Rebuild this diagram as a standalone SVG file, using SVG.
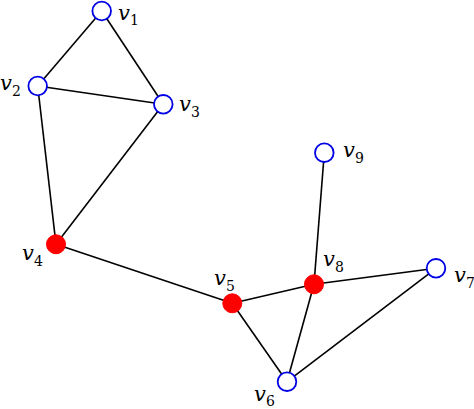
<svg xmlns="http://www.w3.org/2000/svg" width="474" height="409" viewBox="0 0 474 409">
<style>
.e{stroke:#000;stroke-width:1.6;fill:none}
.o{fill:#fff;stroke:#0000e6;stroke-width:1.8}
.r{fill:#f00;stroke:#f00;stroke-width:1}
.l{font-family:"DejaVu Serif","Liberation Serif",serif;font-style:italic;font-size:21px;fill:#000}
.s{font-family:"DejaVu Serif","Liberation Serif",serif;font-size:14px;font-style:normal}
</style>
<rect width="474" height="409" fill="#fff"/>
<g id="edges">
<line class="e" x1="101.7" y1="11" x2="37.7" y2="86"/>
<line class="e" x1="101.7" y1="11" x2="163.3" y2="104.3"/>
<line class="e" x1="37.7" y1="86" x2="163.3" y2="104.3"/>
<line class="e" x1="37.7" y1="86" x2="56" y2="244.3"/>
<line class="e" x1="163.3" y1="104.3" x2="56" y2="244.3"/>
<line class="e" x1="56" y1="244.3" x2="232.3" y2="303.3"/>
<line class="e" x1="232.3" y1="303.3" x2="314" y2="284.3"/>
<line class="e" x1="232.3" y1="303.3" x2="287" y2="381.7"/>
<line class="e" x1="314" y1="284.3" x2="287" y2="381.7"/>
<line class="e" x1="314" y1="284.3" x2="324.3" y2="152.7"/>
<line class="e" x1="314" y1="284.3" x2="436" y2="268.3"/>
<line class="e" x1="436" y1="268.3" x2="287" y2="381.7"/>
</g>
<g id="v1"><circle class="o" cx="101.7" cy="11" r="9.3"/><text class="l" x="118" y="20">v<tspan class="s" dy="5">1</tspan></text></g>
<g id="v2"><circle class="o" cx="37.7" cy="86" r="9.3"/><text class="l" x="0" y="90">v<tspan class="s" dy="6">2</tspan></text></g>
<g id="v3"><circle class="o" cx="163.3" cy="104.3" r="9.3"/><text class="l" x="179" y="111">v<tspan class="s" dy="6">3</tspan></text></g>
<g id="v4"><circle class="r" cx="56" cy="244.3" r="9.5"/><text class="l" x="22" y="260">v<tspan class="s" dy="6">4</tspan></text></g>
<g id="v5"><circle class="r" cx="232.3" cy="303.3" r="9.5"/><text class="l" x="214" y="285">v<tspan class="s" dy="6">5</tspan></text></g>
<g id="v6"><circle class="o" cx="287" cy="381.7" r="9.3"/><text class="l" x="254" y="401">v<tspan class="s" dy="5">6</tspan></text></g>
<g id="v7"><circle class="o" cx="436" cy="268.3" r="9.3"/><text class="l" x="454" y="282">v<tspan class="s" dy="6">7</tspan></text></g>
<g id="v8"><circle class="r" cx="314" cy="284.3" r="9.5"/><text class="l" x="323" y="266">v<tspan class="s" dy="6">8</tspan></text></g>
<g id="v9"><circle class="o" cx="324.3" cy="152.7" r="9.3"/><text class="l" x="343" y="157">v<tspan class="s" dy="6">9</tspan></text></g>
</svg>
